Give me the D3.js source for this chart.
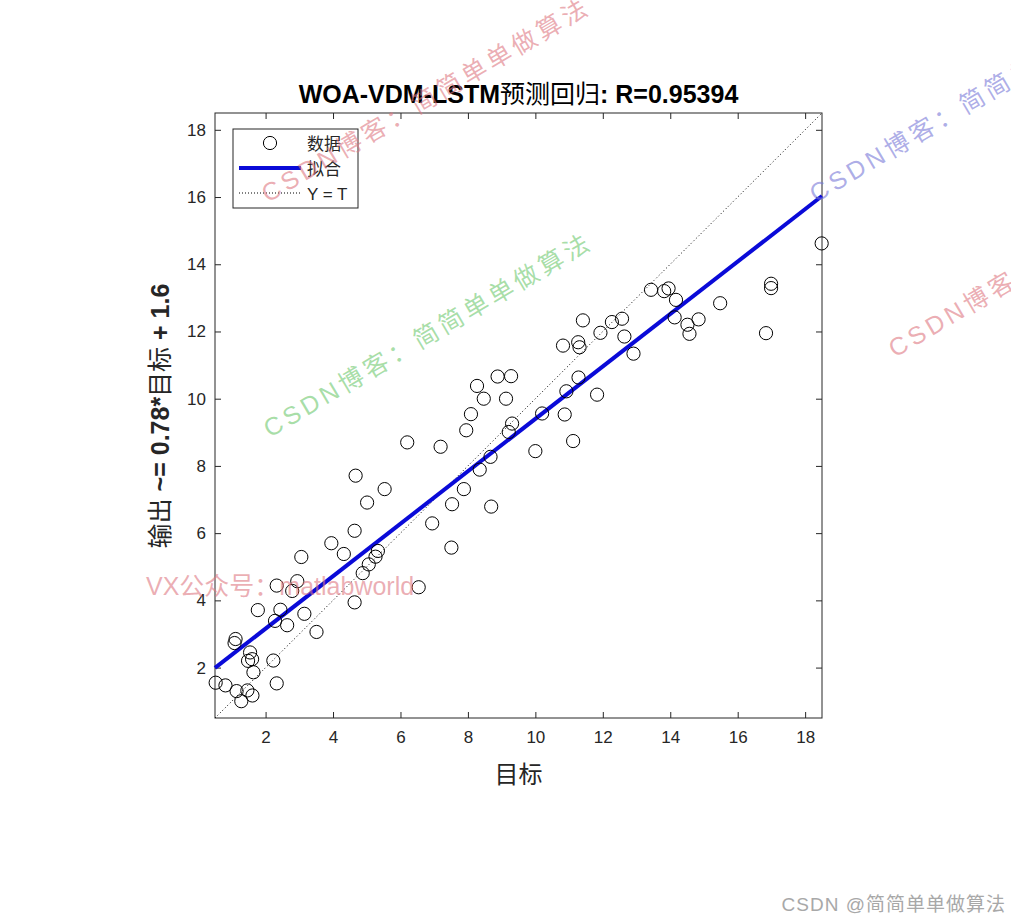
<!DOCTYPE html>
<html>
<head>
<meta charset="utf-8">
<script src="https://cdn.jsdelivr.net/npm/d3@7"></script>
<style>
    body { margin: 0; background: #fff; }
    svg { display: block; font-family: "Liberation Sans", Arial, "Noto Sans CJK SC", sans-serif; }
</style>
</head>
<body>
<div id="chart"></div>
<script>
// target values
const targets = [
    0.52, 0.81, 1.14, 1.28, 1.46, 1.61, 1.64, 1.54, 1.60, 1.48,
    1.11, 1.08, 2.23, 2.33, 1.77, 2.44, 2.28, 2.64, 3.15, 3.51,
    2.33, 2.94, 2.79, 3.06, 3.95, 4.32, 4.64, 4.88, 5.06, 5.26,
    5.33, 4.64, 4.67, 5.01, 5.53, 6.54, 6.20, 6.94, 7.19, 7.51,
    7.53, 7.88, 7.95, 8.09, 8.27, 8.47, 8.35, 8.67, 8.69, 8.88,
    9.28, 9.13, 9.21, 9.31, 10.00, 10.20, 10.87, 10.92, 11.12, 11.28,
    10.82, 11.27, 11.31, 11.41, 11.83, 11.93, 12.27, 12.57, 12.64, 12.91,
    13.43, 13.82, 13.95, 14.17, 14.13, 14.51, 14.57, 14.84, 15.48, 16.84,
    16.99, 16.99, 18.49
];
// network outputs for the same samples
const outputs = [
    1.55, 1.47, 1.30, 1.00, 1.32, 1.17, 1.86, 2.45, 2.25, 2.20,
    2.85, 2.73, 2.21, 1.53, 3.71, 3.72, 3.39, 3.26, 3.60, 3.06,
    4.44, 4.57, 4.28, 5.29, 5.70, 5.38, 3.94, 4.81, 5.07, 5.30,
    5.47, 6.07, 7.71, 6.91, 7.31, 4.39, 8.70, 6.29, 8.57, 5.57,
    6.86, 7.31, 9.06, 9.54, 10.38, 10.00, 7.89, 8.27, 6.79, 10.66,
    10.67, 10.00, 9.01, 9.26, 8.44, 9.56, 9.53, 10.22, 8.74, 10.63,
    11.58, 11.68, 11.53, 12.33, 10.12, 11.96, 12.28, 12.38, 11.85, 11.34,
    13.24, 13.20, 13.28, 12.94, 12.42, 12.20, 11.93, 12.36, 12.84, 11.95,
    13.42, 13.29, 14.62
];
const fitSlope = 0.78;
const fitIntercept = 1.6;
const axisDomain = [0.5, 18.5];
const tickValues = [2, 4, 6, 8, 10, 12, 14, 16, 18];
const legendLabels = ["数据", "拟合", "Y = T"];

const xLabel = "目标";

const W = 1011, H = 922;
const margin = { top: 113, left: 215, width: 607, height: 605 };

const svg = d3.select("#chart").append("svg")
    .attr("width", W)
    .attr("height", H);

const x = d3.scaleLinear().domain(axisDomain).range([margin.left, margin.left + margin.width]);
const y = d3.scaleLinear().domain(axisDomain).range([margin.top + margin.height, margin.top]);

const tickColor = "#262626";

// axes, ticks point inward like matlab
const xBottom = svg.append("g")
    .attr("transform", `translate(0,${margin.top + margin.height})`)
    .call(d3.axisBottom(x).tickValues(tickValues).tickSizeInner(-6).tickSizeOuter(0).tickPadding(13));
const xTop = svg.append("g")
    .attr("transform", `translate(0,${margin.top})`)
    .call(d3.axisTop(x).tickValues(tickValues).tickSizeInner(-6).tickSizeOuter(0).tickFormat(""));
const yLeft = svg.append("g")
    .attr("transform", `translate(${margin.left},0)`)
    .call(d3.axisLeft(y).tickValues(tickValues).tickSizeInner(-6).tickSizeOuter(0).tickPadding(9));
const yRight = svg.append("g")
    .attr("transform", `translate(${margin.left + margin.width},0)`)
    .call(d3.axisRight(y).tickValues(tickValues).tickSizeInner(-6).tickSizeOuter(0).tickFormat(""));

[xBottom, xTop, yLeft, yRight].forEach(g => {
    g.select(".domain").remove();
    g.selectAll(".tick line").attr("stroke", tickColor);
    g.selectAll(".tick text")
        .attr("fill", tickColor)
        .style("font-size", "17px")
        .style("font-family", "'Liberation Sans', Arial, sans-serif");
});

svg.append("rect")
    .attr("x", margin.left)
    .attr("y", margin.top)
    .attr("width", margin.width)
    .attr("height", margin.height)
    .attr("fill", "none")
    .attr("stroke", tickColor)
    .attr("stroke-width", 1);

const plot = svg.append("g");

// Y = T
plot.append("line")
    .attr("x1", x(axisDomain[0])).attr("y1", y(axisDomain[0]))
    .attr("x2", x(axisDomain[1])).attr("y2", y(axisDomain[1]))
    .attr("stroke", "#000")
    .attr("stroke-width", 1)
    .attr("stroke-dasharray", "1,2.5");

// fitted line
plot.append("line")
    .attr("x1", x(axisDomain[0])).attr("y1", y(fitSlope * axisDomain[0] + fitIntercept))
    .attr("x2", x(axisDomain[1])).attr("y2", y(fitSlope * axisDomain[1] + fitIntercept))
    .attr("stroke", "#0a0ad8")
    .attr("stroke-width", 4);

plot.selectAll("circle.pt")
    .data(targets)
    .enter()
    .append("circle")
    .attr("class", "pt")
    .attr("cx", d => x(d))
    .attr("cy", (d, i) => y(outputs[i]))
    .attr("r", 6.6)
    .attr("fill", "none")
    .attr("stroke", "#000")
    .attr("stroke-width", 1);

// legend
const lg = svg.append("g").attr("transform", "translate(233,129)");
lg.append("rect")
    .attr("width", 125).attr("height", 79)
    .attr("fill", "#fff").attr("stroke", tickColor);
lg.append("circle").attr("cx", 37).attr("cy", 14).attr("r", 6.6)
    .attr("fill", "none").attr("stroke", "#000");
lg.append("line").attr("x1", 6).attr("x2", 68).attr("y1", 39).attr("y2", 39)
    .attr("stroke", "#0a0ad8").attr("stroke-width", 4);
lg.append("line").attr("x1", 6).attr("x2", 68).attr("y1", 64).attr("y2", 64)
    .attr("stroke", "#000").attr("stroke-dasharray", "1,2");
lg.selectAll("text")
    .data(legendLabels)
    .enter()
    .append("text")
    .attr("x", 74)
    .attr("y", (d, i) => 21 + i * 25)
    .attr("fill", tickColor)
    .style("font-size", "17px")
    .text(d => d);

// title: latin bold, chinese plain (matlab falls back to a non-bold font)
const title = svg.append("text")
    .attr("x", margin.left + margin.width / 2)
    .attr("y", 103)
    .attr("text-anchor", "middle")
    .attr("fill", "#000")
    .style("font-size", "25px")
    .style("font-weight", "bold");
title.append("tspan").text("WOA-VDM-LSTM");
title.append("tspan").style("font-weight", "normal").text("预测回归");
title.append("tspan").text(": R=0.95394");

svg.append("text")
    .attr("x", margin.left + margin.width / 2)
    .attr("y", 783)
    .attr("text-anchor", "middle")
    .attr("fill", tickColor)
    .style("font-size", "24px")
    .text(xLabel);

// y label, latin part bold
const yl = svg.append("text")
    .attr("transform", `translate(169,${416}) rotate(-90)`)
    .attr("text-anchor", "middle")
    .attr("fill", tickColor)
    .style("font-size", "25px");
yl.append("tspan").text("输出 ");
yl.append("tspan").style("font-weight", "bold").text("~= 0.78*");
yl.append("tspan").text("目标");
yl.append("tspan").style("font-weight", "bold").text(" + 1.6");

// watermarks from the source picture, they sit on top of everything
const marks = [
    { text: "CSDN博客：简简单单做算法", x: 268, y: 203, color: "rgba(222,120,130,0.6)" },
    { text: "CSDN博客：简简单单做算法", x: 270, y: 438, color: "rgba(110,200,110,0.6)" },
    { text: "CSDN博客：简简单单做算法", x: 816, y: 203, color: "rgba(120,120,215,0.6)" },
    { text: "CSDN博客：简简单单做算法", x: 895, y: 358, color: "rgba(222,120,130,0.6)" }
];
const wm = svg.append("g");
marks.forEach(m => {
    wm.append("text")
        .attr("transform", `translate(${m.x},${m.y}) rotate(-30.5)`)
        .attr("fill", m.color)
        .style("font-size", "25px")
        .style("letter-spacing", "4px")
        .text(m.text);
});
wm.append("text")
    .attr("x", 146).attr("y", 595)
    .attr("fill", "rgba(222,120,130,0.6)")
    .style("font-size", "25px")
    .text("VX公众号：matlabworld");

svg.append("text")
    .attr("x", 1006).attr("y", 911)
    .attr("text-anchor", "end")
    .attr("fill", "#a8a8a8")
    .style("font-size", "19px")
    .style("letter-spacing", "1px")
    .text("CSDN @简简单单做算法");
</script>
</body>
</html>
